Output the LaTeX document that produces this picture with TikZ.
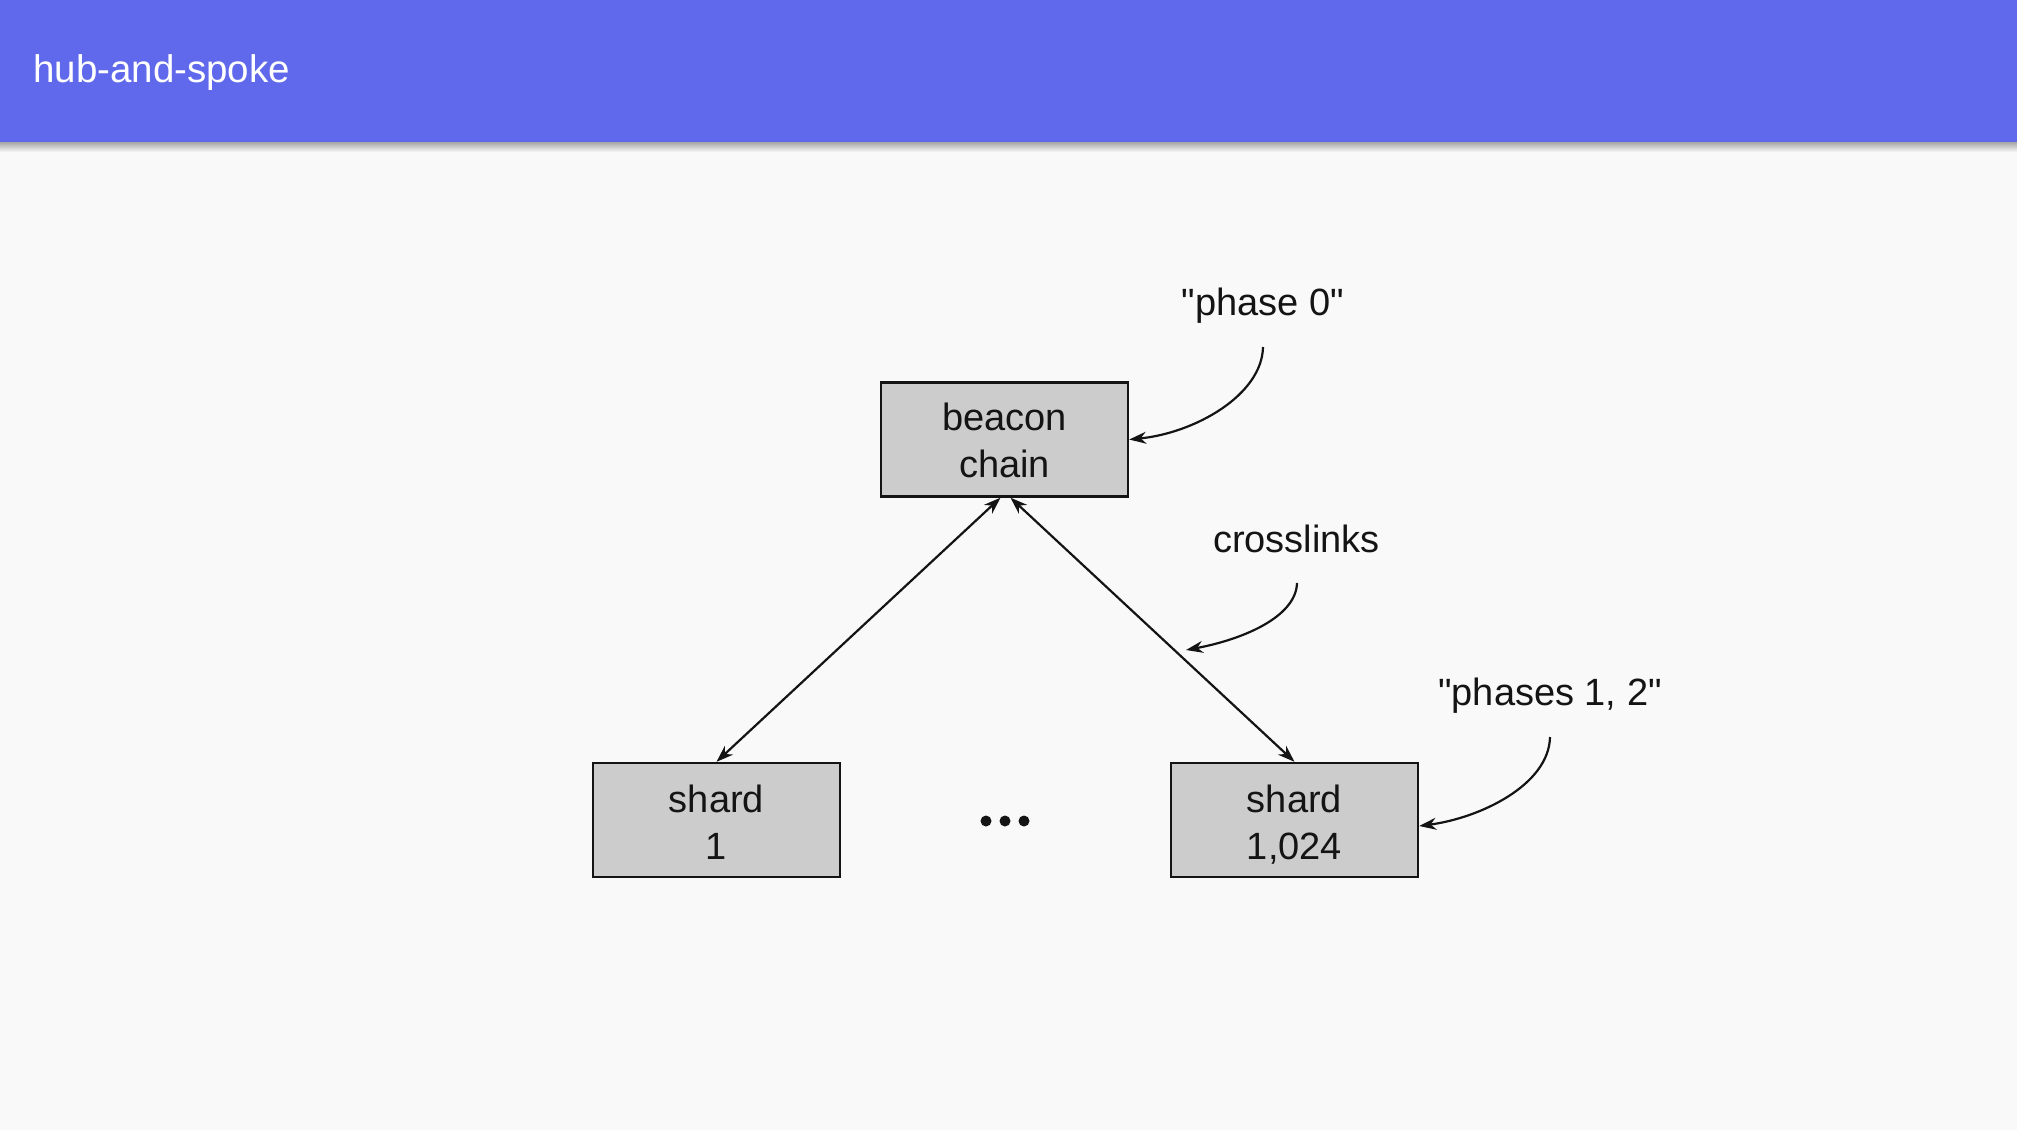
\documentclass[tikz,border=0pt]{standalone}
\usepackage{fontspec}
\setmainfont{Liberation Sans}[Ligatures=TeXOff]
\usetikzlibrary{arrows.meta}
\definecolor{hdr}{RGB}{96,105,236}
\definecolor{bg}{RGB}{249,249,249}
\definecolor{boxfill}{RGB}{204,204,204}
\definecolor{ink}{RGB}{20,20,20}
\begin{document}
\begin{tikzpicture}[x=1pt,y=-1pt,
  chainbox/.style={draw=ink, fill=boxfill, line width=2.4pt, minimum width=247pt, minimum height=114pt, inner sep=0pt, align=center, font=\fontsize{38}{47}\selectfont, text=ink},
  note/.style={font=\fontsize{38}{47}\selectfont, text=ink, anchor=base, inner sep=0pt},
  link/.style={draw=ink, line width=2.2pt, {Stealth[length=17pt,width=12pt]}-{Stealth[length=17pt,width=12pt]}},
  pointer/.style={draw=ink, line width=2.2pt, -{Stealth[length=17pt,width=12pt]}},
]
\useasboundingbox (0,0) rectangle (2017,1130);
\fill[bg] (0,0) rectangle (2017,1130);
\shade[top color=black!35, bottom color=bg] (0,142) rectangle (2017,152);
\fill[hdr] (0,0) rectangle (2017,142);
\node[anchor=base west, text=white, font=\fontsize{38.5}{46}\selectfont, inner sep=0pt] (title) at (33,82) {hub-and-spoke};

\node[chainbox] (beacon) at (1004.5,439.5) {\rule{0pt}{30pt}beacon\\chain};
\node[chainbox] (shard1) at (716.5,820) {\rule{0pt}{36pt}shard\\1\vphantom{,}};
\node[chainbox] (shardN) at (1294.5,820) {\rule{0pt}{36pt}shard\\1,024};

\node[inner sep=0pt, minimum size=1pt] (dots) at (1005,821) {};
\fill[ink] ([xshift=-19pt]dots.center) circle (5.5pt) (dots.center) circle (5.5pt) ([xshift=19pt]dots.center) circle (5.5pt);

\draw[link] ([xshift=-4pt]beacon.south) -- (shard1.north);
\draw[link] ([xshift=6pt]beacon.south) -- (shardN.north);

\node[note] (phase0) at (1263,315) {"phase 0"};
\node[note] (crosslinks) at (1296.5,552) {crosslinks};
\node[note] (phases) at (1550,705) {"phases 1, 2"};

\coordinate (p0s) at (1263,347);
\coordinate (cls) at (1297,583);
\coordinate (cle) at (1186,650);
\coordinate (phs) at (1550,737);

\draw[pointer] (p0s) .. controls (1262,395) and (1195,433) .. (beacon.east);
\draw[pointer] (cls) .. controls (1296,618) and (1240,640) .. (cle);
\draw[pointer] (phs) .. controls (1549,785) and (1480,818) .. ([yshift=-6pt]shardN.east);
\end{tikzpicture}
\end{document}
